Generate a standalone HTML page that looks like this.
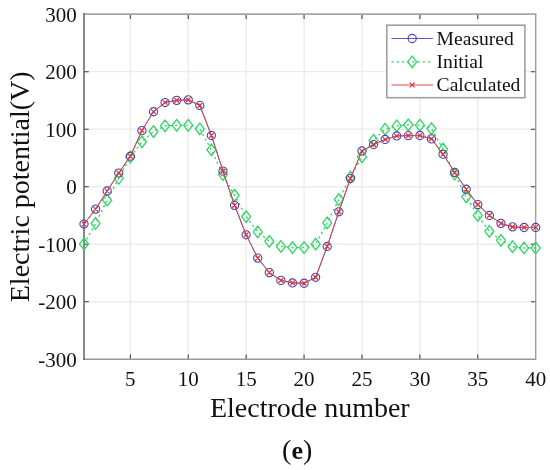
<!DOCTYPE html>
<html><head><meta charset="utf-8"><title>Electric potential plot</title>
<style>html,body{margin:0;padding:0;background:#fff;}svg{display:block;}</style>
</head><body>
<svg width="550" height="470" viewBox="0 0 550 470"><rect width="550" height="470" fill="#fff"/><path d="M130.33 14.15V359.2M188.24 14.15V359.2M246.15 14.15V359.2M304.06 14.15V359.2M361.97 14.15V359.2M419.88 14.15V359.2M477.79 14.15V359.2M84 301.69H535.7M84 244.18H535.7M84 186.68H535.7M84 129.17H535.7M84 71.66H535.7" stroke="#ececec" stroke-width="1.4" fill="none"/><path d="M130.33 359.2v-4.8M130.33 14.15v4.8M188.24 359.2v-4.8M188.24 14.15v4.8M246.15 359.2v-4.8M246.15 14.15v4.8M304.06 359.2v-4.8M304.06 14.15v4.8M361.97 359.2v-4.8M361.97 14.15v4.8M419.88 359.2v-4.8M419.88 14.15v4.8M477.79 359.2v-4.8M477.79 14.15v4.8M84 301.69h4.8M535.7 301.69h-4.8M84 244.18h4.8M535.7 244.18h-4.8M84 186.68h4.8M535.7 186.68h-4.8M84 129.17h4.8M535.7 129.17h-4.8M84 71.66h4.8M535.7 71.66h-4.8" stroke="#3c3c3c" stroke-width="1.05" fill="none"/><path d="M83.2 14.15H536.3" stroke="#a6a6a6" stroke-width="1.8"/><path d="M535.7 14.15V359.2" stroke="#999" stroke-width="1.3"/><path d="M83.3 359.2H536.3" stroke="#999" stroke-width="1.6"/><path d="M84 13.35V360" stroke="#585858" stroke-width="1.4"/><polyline points="84,224.06 95.58,209.1 107.16,190.99 118.75,173.05 130.33,156.2 141.91,130.66 153.49,111.74 165.07,102.54 176.66,100.35 188.24,99.84 199.82,105.42 211.4,135.49 222.98,171.15 234.57,205.37 246.15,234.81 257.73,258.1 269.31,272.59 280.89,280.41 292.48,282.94 304.06,283.23 315.64,277.31 327.22,246.43 338.81,211.81 350.39,178.57 361.97,150.96 373.55,144.58 385.13,139.46 396.72,135.95 408.3,135.67 419.88,135.49 431.46,138.89 443.04,154.18 454.63,172.36 466.21,189.26 477.79,204.62 489.37,215.43 500.95,223.37 512.54,226.87 524.12,227.51 535.7,227.51" fill="none" stroke="#5a5ad0" stroke-width="1"/><polyline points="84,244.01 95.58,223.48 107.16,200.19 118.75,178.28 130.33,157.06 141.91,141.82 153.49,131.52 165.07,125.83 176.66,125.37 188.24,125.37 199.82,128.88 211.4,149.87 222.98,174.6 234.57,195.3 246.15,216.58 257.73,231.88 269.31,241.31 280.89,246.43 292.48,247.58 304.06,247.58 315.64,244.13 327.22,222.91 338.81,199.56 350.39,177.19 361.97,156.77 373.55,140.27 385.13,129.22 396.72,125.95 408.3,124.85 419.88,125.14 431.46,128.59 443.04,149.06 454.63,174.02 466.21,196.85 477.79,215.43 489.37,231.36 500.95,240.33 512.54,246.71 524.12,247.98 535.7,247.98" fill="none" stroke="#2cd862" stroke-width="1.3" stroke-dasharray="2.2 3"/><path d="M84 238.21L88.5 244.01L84 249.81L79.5 244.01ZM95.58 217.68L100.08 223.48L95.58 229.28L91.08 223.48ZM107.16 194.39L111.66 200.19L107.16 205.99L102.66 200.19ZM118.75 172.48L123.25 178.28L118.75 184.08L114.25 178.28ZM130.33 151.26L134.83 157.06L130.33 162.86L125.83 157.06ZM141.91 136.02L146.41 141.82L141.91 147.62L137.41 141.82ZM153.49 125.72L157.99 131.52L153.49 137.32L148.99 131.52ZM165.07 120.03L169.57 125.83L165.07 131.63L160.57 125.83ZM176.66 119.57L181.16 125.37L176.66 131.17L172.16 125.37ZM188.24 119.57L192.74 125.37L188.24 131.17L183.74 125.37ZM199.82 123.08L204.32 128.88L199.82 134.68L195.32 128.88ZM211.4 144.07L215.9 149.87L211.4 155.67L206.9 149.87ZM222.98 168.8L227.48 174.6L222.98 180.4L218.48 174.6ZM234.57 189.5L239.07 195.3L234.57 201.1L230.07 195.3ZM246.15 210.78L250.65 216.58L246.15 222.38L241.65 216.58ZM257.73 226.08L262.23 231.88L257.73 237.68L253.23 231.88ZM269.31 235.51L273.81 241.31L269.31 247.11L264.81 241.31ZM280.89 240.63L285.39 246.43L280.89 252.23L276.39 246.43ZM292.48 241.78L296.98 247.58L292.48 253.38L287.98 247.58ZM304.06 241.78L308.56 247.58L304.06 253.38L299.56 247.58ZM315.64 238.33L320.14 244.13L315.64 249.93L311.14 244.13ZM327.22 217.11L331.72 222.91L327.22 228.71L322.72 222.91ZM338.81 193.76L343.31 199.56L338.81 205.36L334.31 199.56ZM350.39 171.39L354.89 177.19L350.39 182.99L345.89 177.19ZM361.97 150.97L366.47 156.77L361.97 162.57L357.47 156.77ZM373.55 134.47L378.05 140.27L373.55 146.07L369.05 140.27ZM385.13 123.42L389.63 129.22L385.13 135.02L380.63 129.22ZM396.72 120.15L401.22 125.95L396.72 131.75L392.22 125.95ZM408.3 119.05L412.8 124.85L408.3 130.65L403.8 124.85ZM419.88 119.34L424.38 125.14L419.88 130.94L415.38 125.14ZM431.46 122.79L435.96 128.59L431.46 134.39L426.96 128.59ZM443.04 143.26L447.54 149.06L443.04 154.86L438.54 149.06ZM454.63 168.22L459.13 174.02L454.63 179.82L450.13 174.02ZM466.21 191.05L470.71 196.85L466.21 202.65L461.71 196.85ZM477.79 209.63L482.29 215.43L477.79 221.23L473.29 215.43ZM489.37 225.56L493.87 231.36L489.37 237.16L484.87 231.36ZM500.95 234.53L505.45 240.33L500.95 246.13L496.45 240.33ZM512.54 240.91L517.04 246.71L512.54 252.51L508.04 246.71ZM524.12 242.18L528.62 247.98L524.12 253.78L519.62 247.98ZM535.7 242.18L540.2 247.98L535.7 253.78L531.2 247.98Z" fill="none" stroke="#2cd862" stroke-width="1.3"/><g fill="none" stroke="#4a40b4" stroke-width="1.1"><circle cx="84" cy="224.06" r="4.1"/><circle cx="95.58" cy="209.1" r="4.1"/><circle cx="107.16" cy="190.99" r="4.1"/><circle cx="118.75" cy="173.05" r="4.1"/><circle cx="130.33" cy="156.2" r="4.1"/><circle cx="141.91" cy="130.66" r="4.1"/><circle cx="153.49" cy="111.74" r="4.1"/><circle cx="165.07" cy="102.54" r="4.1"/><circle cx="176.66" cy="100.35" r="4.1"/><circle cx="188.24" cy="99.84" r="4.1"/><circle cx="199.82" cy="105.42" r="4.1"/><circle cx="211.4" cy="135.49" r="4.1"/><circle cx="222.98" cy="171.15" r="4.1"/><circle cx="234.57" cy="205.37" r="4.1"/><circle cx="246.15" cy="234.81" r="4.1"/><circle cx="257.73" cy="258.1" r="4.1"/><circle cx="269.31" cy="272.59" r="4.1"/><circle cx="280.89" cy="280.41" r="4.1"/><circle cx="292.48" cy="282.94" r="4.1"/><circle cx="304.06" cy="283.23" r="4.1"/><circle cx="315.64" cy="277.31" r="4.1"/><circle cx="327.22" cy="246.43" r="4.1"/><circle cx="338.81" cy="211.81" r="4.1"/><circle cx="350.39" cy="178.57" r="4.1"/><circle cx="361.97" cy="150.96" r="4.1"/><circle cx="373.55" cy="144.58" r="4.1"/><circle cx="385.13" cy="139.46" r="4.1"/><circle cx="396.72" cy="135.95" r="4.1"/><circle cx="408.3" cy="135.67" r="4.1"/><circle cx="419.88" cy="135.49" r="4.1"/><circle cx="431.46" cy="138.89" r="4.1"/><circle cx="443.04" cy="154.18" r="4.1"/><circle cx="454.63" cy="172.36" r="4.1"/><circle cx="466.21" cy="189.26" r="4.1"/><circle cx="477.79" cy="204.62" r="4.1"/><circle cx="489.37" cy="215.43" r="4.1"/><circle cx="500.95" cy="223.37" r="4.1"/><circle cx="512.54" cy="226.87" r="4.1"/><circle cx="524.12" cy="227.51" r="4.1"/><circle cx="535.7" cy="227.51" r="4.1"/></g><polyline points="84,224.06 95.58,209.1 107.16,190.99 118.75,173.05 130.33,156.2 141.91,130.66 153.49,111.74 165.07,102.54 176.66,100.35 188.24,99.84 199.82,105.42 211.4,135.49 222.98,171.15 234.57,205.37 246.15,234.81 257.73,258.1 269.31,272.59 280.89,280.41 292.48,282.94 304.06,283.23 315.64,277.31 327.22,246.43 338.81,211.81 350.39,178.57 361.97,150.96 373.55,144.58 385.13,139.46 396.72,135.95 408.3,135.67 419.88,135.49 431.46,138.89 443.04,154.18 454.63,172.36 466.21,189.26 477.79,204.62 489.37,215.43 500.95,223.37 512.54,226.87 524.12,227.51 535.7,227.51" fill="none" stroke="#e04848" stroke-width="1"/><path d="M81.6 221.66L86.4 226.46M81.6 226.46L86.4 221.66M93.18 206.7L97.98 211.5M93.18 211.5L97.98 206.7M104.76 188.59L109.56 193.39M104.76 193.39L109.56 188.59M116.35 170.65L121.15 175.45M116.35 175.45L121.15 170.65M127.93 153.8L132.73 158.6M127.93 158.6L132.73 153.8M139.51 128.26L144.31 133.06M139.51 133.06L144.31 128.26M151.09 109.34L155.89 114.14M151.09 114.14L155.89 109.34M162.67 100.14L167.47 104.94M162.67 104.94L167.47 100.14M174.26 97.95L179.06 102.75M174.26 102.75L179.06 97.95M185.84 97.44L190.64 102.24M185.84 102.24L190.64 97.44M197.42 103.02L202.22 107.82M197.42 107.82L202.22 103.02M209 133.09L213.8 137.89M209 137.89L213.8 133.09M220.58 168.75L225.38 173.55M220.58 173.55L225.38 168.75M232.17 202.97L236.97 207.77M232.17 207.77L236.97 202.97M243.75 232.41L248.55 237.21M243.75 237.21L248.55 232.41M255.33 255.7L260.13 260.5M255.33 260.5L260.13 255.7M266.91 270.19L271.71 274.99M266.91 274.99L271.71 270.19M278.49 278.01L283.29 282.81M278.49 282.81L283.29 278.01M290.08 280.54L294.88 285.34M290.08 285.34L294.88 280.54M301.66 280.83L306.46 285.63M301.66 285.63L306.46 280.83M313.24 274.91L318.04 279.71M313.24 279.71L318.04 274.91M324.82 244.03L329.62 248.83M324.82 248.83L329.62 244.03M336.41 209.41L341.21 214.21M336.41 214.21L341.21 209.41M347.99 176.17L352.79 180.97M347.99 180.97L352.79 176.17M359.57 148.56L364.37 153.36M359.57 153.36L364.37 148.56M371.15 142.18L375.95 146.98M371.15 146.98L375.95 142.18M382.73 137.06L387.53 141.86M382.73 141.86L387.53 137.06M394.32 133.55L399.12 138.35M394.32 138.35L399.12 133.55M405.9 133.27L410.7 138.07M405.9 138.07L410.7 133.27M417.48 133.09L422.28 137.89M417.48 137.89L422.28 133.09M429.06 136.49L433.86 141.29M429.06 141.29L433.86 136.49M440.64 151.78L445.44 156.58M440.64 156.58L445.44 151.78M452.23 169.96L457.03 174.76M452.23 174.76L457.03 169.96M463.81 186.86L468.61 191.66M463.81 191.66L468.61 186.86M475.39 202.22L480.19 207.02M475.39 207.02L480.19 202.22M486.97 213.03L491.77 217.83M486.97 217.83L491.77 213.03M498.55 220.97L503.35 225.77M498.55 225.77L503.35 220.97M510.14 224.47L514.94 229.27M510.14 229.27L514.94 224.47M521.72 225.11L526.52 229.91M521.72 229.91L526.52 225.11M533.3 225.11L538.1 229.91M533.3 229.91L538.1 225.11" fill="none" stroke="#e03030" stroke-width="1.2"/><g font-family="'Liberation Serif','Times New Roman',serif" font-size="21" fill="#111"><text x="130.33" y="385.7" text-anchor="middle">5</text><text x="188.24" y="385.7" text-anchor="middle">10</text><text x="246.15" y="385.7" text-anchor="middle">15</text><text x="304.06" y="385.7" text-anchor="middle">20</text><text x="361.97" y="385.7" text-anchor="middle">25</text><text x="419.88" y="385.7" text-anchor="middle">30</text><text x="477.79" y="385.7" text-anchor="middle">35</text><text x="535.7" y="385.7" text-anchor="middle">40</text><text x="76.8" y="366.8" text-anchor="end">-300</text><text x="76.8" y="309.29" text-anchor="end">-200</text><text x="76.8" y="251.78" text-anchor="end">-100</text><text x="76.8" y="194.28" text-anchor="end">0</text><text x="76.8" y="136.77" text-anchor="end">100</text><text x="76.8" y="79.26" text-anchor="end">200</text><text x="76.8" y="21.75" text-anchor="end">300</text></g><text x="309.8" y="417.4" text-anchor="middle" font-family="'Liberation Serif','Times New Roman',serif" font-size="28" fill="#111">Electrode number</text><text transform="translate(28.5 186.8) rotate(-90)" text-anchor="middle" font-family="'Liberation Serif','Times New Roman',serif" font-size="28" fill="#111">Electric potential(V)</text><rect x="386.8" y="25.2" width="138.1" height="72.5" fill="#fff" stroke="#a0a0a0" stroke-width="1.6"/><path d="M391.5 38.5H432.9" stroke="#5a5ad0" stroke-width="1"/><circle cx="412.2" cy="38.5" r="4.1" fill="none" stroke="#4a40b4" stroke-width="1.1"/><path d="M391.5 61.9H432.9" stroke="#2cd862" stroke-width="1.3" stroke-dasharray="2.2 3"/><path d="M412.2 56.1L416.7 61.9L412.2 67.7L407.7 61.9Z" fill="none" stroke="#2cd862" stroke-width="1.3"/><path d="M391.5 85H432.9" stroke="#e04848" stroke-width="1"/><path d="M409.8 82.6L414.6 87.4M409.8 87.4L414.6 82.6" stroke="#e03030" stroke-width="1.2"/><g font-family="'Liberation Serif','Times New Roman',serif" font-size="19.6" fill="#111"><text x="436.6" y="45.3">Measured</text><text x="436.6" y="68.3">Initial</text><text x="436.6" y="91.2">Calculated</text></g><text x="297.2" y="458.6" text-anchor="middle" font-family="'Liberation Serif','Times New Roman',serif" font-size="28" fill="#111">(<tspan font-weight="bold" font-size="26" dy="0.4">e</tspan><tspan dy="-0.4">)</tspan></text></svg>
</body></html>
